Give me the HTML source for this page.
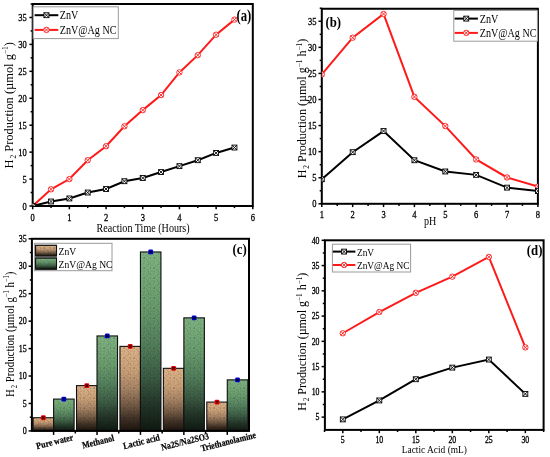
<!DOCTYPE html>
<html><head><meta charset="utf-8"><style>
html,body{margin:0;padding:0;background:#fff;width:550px;height:457px;overflow:hidden}
svg{display:block;font-family:"Liberation Serif", serif;will-change:transform}
</style></head><body>
<svg width="550" height="457" viewBox="0 0 550 457" fill="#000">
<rect x="32.7" y="4" width="220.1" height="202" fill="none" stroke="#000" stroke-width="2.0"/>
<clipPath id="cp1"><rect x="32.7" y="4" width="220.1" height="202"/></clipPath><g clip-path="url(#cp1)">
<polyline points="32.7,206 51.04,189.3 69.38,179.07 87.73,160.21 106.07,146.21 124.41,126.28 142.75,110.12 161.09,95.03 179.43,72.41 197.78,55.17 216.12,34.7 234.46,19.62" fill="none" stroke="#ff1a1a" stroke-width="2"/>
<g stroke="#ff1a1a" stroke-width="0.9" fill="#fff"><circle cx="32.7" cy="206" r="2.7"/><path d="M30.68 203.97L34.73 208.03M34.73 203.97L30.68 208.03"/></g>
<g stroke="#ff1a1a" stroke-width="0.9" fill="#fff"><circle cx="51.04" cy="189.3" r="2.7"/><path d="M49.02 187.28L53.07 191.33M53.07 187.28L49.02 191.33"/></g>
<g stroke="#ff1a1a" stroke-width="0.9" fill="#fff"><circle cx="69.38" cy="179.07" r="2.7"/><path d="M67.36 177.04L71.41 181.09M71.41 177.04L67.36 181.09"/></g>
<g stroke="#ff1a1a" stroke-width="0.9" fill="#fff"><circle cx="87.73" cy="160.21" r="2.7"/><path d="M85.7 158.19L89.75 162.24M89.75 158.19L85.7 162.24"/></g>
<g stroke="#ff1a1a" stroke-width="0.9" fill="#fff"><circle cx="106.07" cy="146.21" r="2.7"/><path d="M104.04 144.18L108.09 148.23M108.09 144.18L104.04 148.23"/></g>
<g stroke="#ff1a1a" stroke-width="0.9" fill="#fff"><circle cx="124.41" cy="126.28" r="2.7"/><path d="M122.38 124.25L126.43 128.3M126.43 124.25L122.38 128.3"/></g>
<g stroke="#ff1a1a" stroke-width="0.9" fill="#fff"><circle cx="142.75" cy="110.12" r="2.7"/><path d="M140.72 108.09L144.78 112.14M144.78 108.09L140.72 112.14"/></g>
<g stroke="#ff1a1a" stroke-width="0.9" fill="#fff"><circle cx="161.09" cy="95.03" r="2.7"/><path d="M159.07 93.01L163.12 97.06M163.12 93.01L159.07 97.06"/></g>
<g stroke="#ff1a1a" stroke-width="0.9" fill="#fff"><circle cx="179.43" cy="72.41" r="2.7"/><path d="M177.41 70.39L181.46 74.44M181.46 70.39L177.41 74.44"/></g>
<g stroke="#ff1a1a" stroke-width="0.9" fill="#fff"><circle cx="197.78" cy="55.17" r="2.7"/><path d="M195.75 53.15L199.8 57.2M199.8 53.15L195.75 57.2"/></g>
<g stroke="#ff1a1a" stroke-width="0.9" fill="#fff"><circle cx="216.12" cy="34.7" r="2.7"/><path d="M214.09 32.68L218.14 36.73M218.14 32.68L214.09 36.73"/></g>
<g stroke="#ff1a1a" stroke-width="0.9" fill="#fff"><circle cx="234.46" cy="19.62" r="2.7"/><path d="M232.43 17.6L236.48 21.65M236.48 17.6L232.43 21.65"/></g>
<polyline points="32.7,206 51.04,201.48 69.38,198.46 87.73,192.53 106.07,189.03 124.41,181.22 142.75,177.99 161.09,172.06 179.43,166.14 197.78,160.21 216.12,152.94 234.46,147.55" fill="none" stroke="#000" stroke-width="2"/>
<g stroke="#000" stroke-width="0.9" fill="#fff"><rect x="30.25" y="203.55" width="4.9" height="4.9"/><path d="M30.25 203.55L35.15 208.45M35.15 203.55L30.25 208.45"/></g>
<g stroke="#000" stroke-width="0.9" fill="#fff"><rect x="48.59" y="199.03" width="4.9" height="4.9"/><path d="M48.59 199.03L53.49 203.93M53.49 199.03L48.59 203.93"/></g>
<g stroke="#000" stroke-width="0.9" fill="#fff"><rect x="66.93" y="196.01" width="4.9" height="4.9"/><path d="M66.93 196.01L71.83 200.91M71.83 196.01L66.93 200.91"/></g>
<g stroke="#000" stroke-width="0.9" fill="#fff"><rect x="85.28" y="190.08" width="4.9" height="4.9"/><path d="M85.28 190.08L90.18 194.98M90.18 190.08L85.28 194.98"/></g>
<g stroke="#000" stroke-width="0.9" fill="#fff"><rect x="103.62" y="186.58" width="4.9" height="4.9"/><path d="M103.62 186.58L108.52 191.48M108.52 186.58L103.62 191.48"/></g>
<g stroke="#000" stroke-width="0.9" fill="#fff"><rect x="121.96" y="178.77" width="4.9" height="4.9"/><path d="M121.96 178.77L126.86 183.67M126.86 178.77L121.96 183.67"/></g>
<g stroke="#000" stroke-width="0.9" fill="#fff"><rect x="140.3" y="175.54" width="4.9" height="4.9"/><path d="M140.3 175.54L145.2 180.44M145.2 175.54L140.3 180.44"/></g>
<g stroke="#000" stroke-width="0.9" fill="#fff"><rect x="158.64" y="169.61" width="4.9" height="4.9"/><path d="M158.64 169.61L163.54 174.51M163.54 169.61L158.64 174.51"/></g>
<g stroke="#000" stroke-width="0.9" fill="#fff"><rect x="176.98" y="163.69" width="4.9" height="4.9"/><path d="M176.98 163.69L181.88 168.59M181.88 163.69L176.98 168.59"/></g>
<g stroke="#000" stroke-width="0.9" fill="#fff"><rect x="195.33" y="157.76" width="4.9" height="4.9"/><path d="M195.33 157.76L200.23 162.66M200.23 157.76L195.33 162.66"/></g>
<g stroke="#000" stroke-width="0.9" fill="#fff"><rect x="213.67" y="150.49" width="4.9" height="4.9"/><path d="M213.67 150.49L218.57 155.39M218.57 150.49L213.67 155.39"/></g>
<g stroke="#000" stroke-width="0.9" fill="#fff"><rect x="232.01" y="145.1" width="4.9" height="4.9"/><path d="M232.01 145.1L236.91 150M236.91 145.1L232.01 150"/></g>
</g>
<line x1="32.7" y1="206" x2="32.7" y2="209.3" stroke="#000" stroke-width="1.5"/>
<text transform="translate(32.7,220.8) scale(1,1.22)" font-size="8.5" text-anchor="middle" stroke="#000" stroke-width="0.25">0</text>
<line x1="69.38" y1="206" x2="69.38" y2="209.3" stroke="#000" stroke-width="1.5"/>
<text transform="translate(69.38,220.8) scale(1,1.22)" font-size="8.5" text-anchor="middle" stroke="#000" stroke-width="0.25">1</text>
<line x1="106.07" y1="206" x2="106.07" y2="209.3" stroke="#000" stroke-width="1.5"/>
<text transform="translate(106.07,220.8) scale(1,1.22)" font-size="8.5" text-anchor="middle" stroke="#000" stroke-width="0.25">2</text>
<line x1="142.75" y1="206" x2="142.75" y2="209.3" stroke="#000" stroke-width="1.5"/>
<text transform="translate(142.75,220.8) scale(1,1.22)" font-size="8.5" text-anchor="middle" stroke="#000" stroke-width="0.25">3</text>
<line x1="179.43" y1="206" x2="179.43" y2="209.3" stroke="#000" stroke-width="1.5"/>
<text transform="translate(179.43,220.8) scale(1,1.22)" font-size="8.5" text-anchor="middle" stroke="#000" stroke-width="0.25">4</text>
<line x1="216.12" y1="206" x2="216.12" y2="209.3" stroke="#000" stroke-width="1.5"/>
<text transform="translate(216.12,220.8) scale(1,1.22)" font-size="8.5" text-anchor="middle" stroke="#000" stroke-width="0.25">5</text>
<line x1="252.8" y1="206" x2="252.8" y2="209.3" stroke="#000" stroke-width="1.5"/>
<text transform="translate(252.8,220.8) scale(1,1.22)" font-size="8.5" text-anchor="middle" stroke="#000" stroke-width="0.25">6</text>
<line x1="51.04" y1="206" x2="51.04" y2="208.1" stroke="#000" stroke-width="1.5"/>
<line x1="87.73" y1="206" x2="87.73" y2="208.1" stroke="#000" stroke-width="1.5"/>
<line x1="124.41" y1="206" x2="124.41" y2="208.1" stroke="#000" stroke-width="1.5"/>
<line x1="161.09" y1="206" x2="161.09" y2="208.1" stroke="#000" stroke-width="1.5"/>
<line x1="197.78" y1="206" x2="197.78" y2="208.1" stroke="#000" stroke-width="1.5"/>
<line x1="234.46" y1="206" x2="234.46" y2="208.1" stroke="#000" stroke-width="1.5"/>
<line x1="32.7" y1="206" x2="29.4" y2="206" stroke="#000" stroke-width="1.5"/>
<text transform="translate(26.8,209.5) scale(1,1.22)" font-size="8.5" text-anchor="end" stroke="#000" stroke-width="0.25">0</text>
<line x1="32.7" y1="179.07" x2="29.4" y2="179.07" stroke="#000" stroke-width="1.5"/>
<text transform="translate(26.8,182.57) scale(1,1.22)" font-size="8.5" text-anchor="end" stroke="#000" stroke-width="0.25">5</text>
<line x1="32.7" y1="152.13" x2="29.4" y2="152.13" stroke="#000" stroke-width="1.5"/>
<text transform="translate(26.8,155.63) scale(1,1.22)" font-size="8.5" text-anchor="end" stroke="#000" stroke-width="0.25">10</text>
<line x1="32.7" y1="125.2" x2="29.4" y2="125.2" stroke="#000" stroke-width="1.5"/>
<text transform="translate(26.8,128.7) scale(1,1.22)" font-size="8.5" text-anchor="end" stroke="#000" stroke-width="0.25">15</text>
<line x1="32.7" y1="98.27" x2="29.4" y2="98.27" stroke="#000" stroke-width="1.5"/>
<text transform="translate(26.8,101.77) scale(1,1.22)" font-size="8.5" text-anchor="end" stroke="#000" stroke-width="0.25">20</text>
<line x1="32.7" y1="71.33" x2="29.4" y2="71.33" stroke="#000" stroke-width="1.5"/>
<text transform="translate(26.8,74.83) scale(1,1.22)" font-size="8.5" text-anchor="end" stroke="#000" stroke-width="0.25">25</text>
<line x1="32.7" y1="44.4" x2="29.4" y2="44.4" stroke="#000" stroke-width="1.5"/>
<text transform="translate(26.8,47.9) scale(1,1.22)" font-size="8.5" text-anchor="end" stroke="#000" stroke-width="0.25">30</text>
<line x1="32.7" y1="17.47" x2="29.4" y2="17.47" stroke="#000" stroke-width="1.5"/>
<text transform="translate(26.8,20.97) scale(1,1.22)" font-size="8.5" text-anchor="end" stroke="#000" stroke-width="0.25">35</text>
<line x1="32.7" y1="192.53" x2="30.6" y2="192.53" stroke="#000" stroke-width="1.5"/>
<line x1="32.7" y1="165.6" x2="30.6" y2="165.6" stroke="#000" stroke-width="1.5"/>
<line x1="32.7" y1="138.67" x2="30.6" y2="138.67" stroke="#000" stroke-width="1.5"/>
<line x1="32.7" y1="111.73" x2="30.6" y2="111.73" stroke="#000" stroke-width="1.5"/>
<line x1="32.7" y1="84.8" x2="30.6" y2="84.8" stroke="#000" stroke-width="1.5"/>
<line x1="32.7" y1="57.87" x2="30.6" y2="57.87" stroke="#000" stroke-width="1.5"/>
<line x1="32.7" y1="30.93" x2="30.6" y2="30.93" stroke="#000" stroke-width="1.5"/>
<line x1="32.7" y1="4" x2="30.6" y2="4" stroke="#000" stroke-width="1.5"/>
<rect x="33.2" y="6.8" width="85.1" height="31.8" fill="#fff" stroke="#9a9a9a" stroke-width="1"/>
<line x1="34.6" y1="15.2" x2="58.3" y2="15.2" stroke="#000" stroke-width="2"/>
<g stroke="#000" stroke-width="0.9" fill="#fff"><rect x="44" y="12.75" width="4.9" height="4.9"/><path d="M44 12.75L48.9 17.65M48.9 12.75L44 17.65"/></g>
<text transform="translate(59.8,19.1) scale(1,1.16)" font-size="10.1">ZnV</text>
<line x1="34.6" y1="29.9" x2="58.3" y2="29.9" stroke="#ff1a1a" stroke-width="2"/>
<g stroke="#ff1a1a" stroke-width="0.9" fill="#fff"><circle cx="46.45" cy="29.9" r="2.7"/><path d="M44.43 27.88L48.48 31.92M48.48 27.88L44.43 31.92"/></g>
<text transform="translate(59.8,33.8) scale(1,1.16)" font-size="10.1">ZnV@Ag NC</text>
<text transform="translate(236.4,20.9) scale(1,1.25)" font-size="12.8" font-weight="bold">(a)</text>
<text transform="translate(96.6,231.5) scale(1,1.16)" font-size="10.1">Reaction Time (Hours)</text>
<text transform="translate(13,105.3) rotate(-90) scale(1.02,1)" font-size="12.2" text-anchor="middle">H<tspan font-size="7.32" dy="2.93" dx="0.98">2</tspan><tspan dy="-2.93"> Production (µmol g</tspan><tspan font-size="7.32" dy="-4.64">−1</tspan><tspan dy="4.64">)</tspan></text>
<rect x="321.8" y="8.75" width="216.1" height="195.05" fill="none" stroke="#000" stroke-width="2.0"/>
<clipPath id="cp2"><rect x="321.8" y="8.75" width="216.1" height="195.05"/></clipPath><g clip-path="url(#cp2)">
<polyline points="321.8,74.46 352.67,37.69 383.54,13.97 414.41,96.89 445.29,126.09 476.16,159.47 507.03,177.46 537.9,186.59" fill="none" stroke="#ff1a1a" stroke-width="2"/>
<g stroke="#ff1a1a" stroke-width="0.9" fill="#fff"><circle cx="321.8" cy="74.46" r="2.7"/><path d="M319.78 72.44L323.82 76.49M323.82 72.44L319.78 76.49"/></g>
<g stroke="#ff1a1a" stroke-width="0.9" fill="#fff"><circle cx="352.67" cy="37.69" r="2.7"/><path d="M350.65 35.67L354.7 39.72M354.7 35.67L350.65 39.72"/></g>
<g stroke="#ff1a1a" stroke-width="0.9" fill="#fff"><circle cx="383.54" cy="13.97" r="2.7"/><path d="M381.52 11.94L385.57 15.99M385.57 11.94L381.52 15.99"/></g>
<g stroke="#ff1a1a" stroke-width="0.9" fill="#fff"><circle cx="414.41" cy="96.89" r="2.7"/><path d="M412.39 94.86L416.44 98.91M416.44 94.86L412.39 98.91"/></g>
<g stroke="#ff1a1a" stroke-width="0.9" fill="#fff"><circle cx="445.29" cy="126.09" r="2.7"/><path d="M443.26 124.07L447.31 128.12M447.31 124.07L443.26 128.12"/></g>
<g stroke="#ff1a1a" stroke-width="0.9" fill="#fff"><circle cx="476.16" cy="159.47" r="2.7"/><path d="M474.13 157.45L478.18 161.5M478.18 157.45L474.13 161.5"/></g>
<g stroke="#ff1a1a" stroke-width="0.9" fill="#fff"><circle cx="507.03" cy="177.46" r="2.7"/><path d="M505 175.44L509.05 179.49M509.05 175.44L505 179.49"/></g>
<g stroke="#ff1a1a" stroke-width="0.9" fill="#fff"><circle cx="537.9" cy="186.59" r="2.7"/><path d="M535.88 184.56L539.92 188.61M539.92 184.56L535.88 188.61"/></g>
<polyline points="321.8,179.29 352.67,152.17 383.54,131.05 414.41,160.25 445.29,171.47 476.16,174.86 507.03,187.63 537.9,191.02" fill="none" stroke="#000" stroke-width="2"/>
<g stroke="#000" stroke-width="0.9" fill="#fff"><rect x="319.35" y="176.84" width="4.9" height="4.9"/><path d="M319.35 176.84L324.25 181.74M324.25 176.84L319.35 181.74"/></g>
<g stroke="#000" stroke-width="0.9" fill="#fff"><rect x="350.22" y="149.72" width="4.9" height="4.9"/><path d="M350.22 149.72L355.12 154.62M355.12 149.72L350.22 154.62"/></g>
<g stroke="#000" stroke-width="0.9" fill="#fff"><rect x="381.09" y="128.6" width="4.9" height="4.9"/><path d="M381.09 128.6L385.99 133.5M385.99 128.6L381.09 133.5"/></g>
<g stroke="#000" stroke-width="0.9" fill="#fff"><rect x="411.96" y="157.8" width="4.9" height="4.9"/><path d="M411.96 157.8L416.86 162.7M416.86 157.8L411.96 162.7"/></g>
<g stroke="#000" stroke-width="0.9" fill="#fff"><rect x="442.84" y="169.02" width="4.9" height="4.9"/><path d="M442.84 169.02L447.74 173.92M447.74 169.02L442.84 173.92"/></g>
<g stroke="#000" stroke-width="0.9" fill="#fff"><rect x="473.71" y="172.41" width="4.9" height="4.9"/><path d="M473.71 172.41L478.61 177.31M478.61 172.41L473.71 177.31"/></g>
<g stroke="#000" stroke-width="0.9" fill="#fff"><rect x="504.58" y="185.18" width="4.9" height="4.9"/><path d="M504.58 185.18L509.48 190.08M509.48 185.18L504.58 190.08"/></g>
<g stroke="#000" stroke-width="0.9" fill="#fff"><rect x="535.45" y="188.57" width="4.9" height="4.9"/><path d="M535.45 188.57L540.35 193.47M540.35 188.57L535.45 193.47"/></g>
</g>
<line x1="321.8" y1="203.8" x2="321.8" y2="207.1" stroke="#000" stroke-width="1.5"/>
<text transform="translate(321.8,217.6) scale(1,1.22)" font-size="8.5" text-anchor="middle" stroke="#000" stroke-width="0.25">1</text>
<line x1="352.67" y1="203.8" x2="352.67" y2="207.1" stroke="#000" stroke-width="1.5"/>
<text transform="translate(352.67,217.6) scale(1,1.22)" font-size="8.5" text-anchor="middle" stroke="#000" stroke-width="0.25">2</text>
<line x1="383.54" y1="203.8" x2="383.54" y2="207.1" stroke="#000" stroke-width="1.5"/>
<text transform="translate(383.54,217.6) scale(1,1.22)" font-size="8.5" text-anchor="middle" stroke="#000" stroke-width="0.25">3</text>
<line x1="414.41" y1="203.8" x2="414.41" y2="207.1" stroke="#000" stroke-width="1.5"/>
<text transform="translate(414.41,217.6) scale(1,1.22)" font-size="8.5" text-anchor="middle" stroke="#000" stroke-width="0.25">4</text>
<line x1="445.29" y1="203.8" x2="445.29" y2="207.1" stroke="#000" stroke-width="1.5"/>
<text transform="translate(445.29,217.6) scale(1,1.22)" font-size="8.5" text-anchor="middle" stroke="#000" stroke-width="0.25">5</text>
<line x1="476.16" y1="203.8" x2="476.16" y2="207.1" stroke="#000" stroke-width="1.5"/>
<text transform="translate(476.16,217.6) scale(1,1.22)" font-size="8.5" text-anchor="middle" stroke="#000" stroke-width="0.25">6</text>
<line x1="507.03" y1="203.8" x2="507.03" y2="207.1" stroke="#000" stroke-width="1.5"/>
<text transform="translate(507.03,217.6) scale(1,1.22)" font-size="8.5" text-anchor="middle" stroke="#000" stroke-width="0.25">7</text>
<line x1="537.9" y1="203.8" x2="537.9" y2="207.1" stroke="#000" stroke-width="1.5"/>
<text transform="translate(537.9,217.6) scale(1,1.22)" font-size="8.5" text-anchor="middle" stroke="#000" stroke-width="0.25">8</text>
<line x1="337.24" y1="203.8" x2="337.24" y2="205.9" stroke="#000" stroke-width="1.5"/>
<line x1="368.11" y1="203.8" x2="368.11" y2="205.9" stroke="#000" stroke-width="1.5"/>
<line x1="398.98" y1="203.8" x2="398.98" y2="205.9" stroke="#000" stroke-width="1.5"/>
<line x1="429.85" y1="203.8" x2="429.85" y2="205.9" stroke="#000" stroke-width="1.5"/>
<line x1="460.72" y1="203.8" x2="460.72" y2="205.9" stroke="#000" stroke-width="1.5"/>
<line x1="491.59" y1="203.8" x2="491.59" y2="205.9" stroke="#000" stroke-width="1.5"/>
<line x1="522.46" y1="203.8" x2="522.46" y2="205.9" stroke="#000" stroke-width="1.5"/>
<line x1="321.8" y1="203.8" x2="318.5" y2="203.8" stroke="#000" stroke-width="1.5"/>
<text transform="translate(316.6,207.3) scale(1,1.22)" font-size="8.5" text-anchor="end" stroke="#000" stroke-width="0.25">0</text>
<line x1="321.8" y1="177.72" x2="318.5" y2="177.72" stroke="#000" stroke-width="1.5"/>
<text transform="translate(316.6,181.22) scale(1,1.22)" font-size="8.5" text-anchor="end" stroke="#000" stroke-width="0.25">5</text>
<line x1="321.8" y1="151.65" x2="318.5" y2="151.65" stroke="#000" stroke-width="1.5"/>
<text transform="translate(316.6,155.15) scale(1,1.22)" font-size="8.5" text-anchor="end" stroke="#000" stroke-width="0.25">10</text>
<line x1="321.8" y1="125.57" x2="318.5" y2="125.57" stroke="#000" stroke-width="1.5"/>
<text transform="translate(316.6,129.07) scale(1,1.22)" font-size="8.5" text-anchor="end" stroke="#000" stroke-width="0.25">15</text>
<line x1="321.8" y1="99.5" x2="318.5" y2="99.5" stroke="#000" stroke-width="1.5"/>
<text transform="translate(316.6,103) scale(1,1.22)" font-size="8.5" text-anchor="end" stroke="#000" stroke-width="0.25">20</text>
<line x1="321.8" y1="73.42" x2="318.5" y2="73.42" stroke="#000" stroke-width="1.5"/>
<text transform="translate(316.6,76.92) scale(1,1.22)" font-size="8.5" text-anchor="end" stroke="#000" stroke-width="0.25">25</text>
<line x1="321.8" y1="47.34" x2="318.5" y2="47.34" stroke="#000" stroke-width="1.5"/>
<text transform="translate(316.6,50.84) scale(1,1.22)" font-size="8.5" text-anchor="end" stroke="#000" stroke-width="0.25">30</text>
<line x1="321.8" y1="21.27" x2="318.5" y2="21.27" stroke="#000" stroke-width="1.5"/>
<text transform="translate(316.6,24.77) scale(1,1.22)" font-size="8.5" text-anchor="end" stroke="#000" stroke-width="0.25">35</text>
<line x1="321.8" y1="190.76" x2="319.7" y2="190.76" stroke="#000" stroke-width="1.5"/>
<line x1="321.8" y1="164.69" x2="319.7" y2="164.69" stroke="#000" stroke-width="1.5"/>
<line x1="321.8" y1="138.61" x2="319.7" y2="138.61" stroke="#000" stroke-width="1.5"/>
<line x1="321.8" y1="112.53" x2="319.7" y2="112.53" stroke="#000" stroke-width="1.5"/>
<line x1="321.8" y1="86.46" x2="319.7" y2="86.46" stroke="#000" stroke-width="1.5"/>
<line x1="321.8" y1="60.38" x2="319.7" y2="60.38" stroke="#000" stroke-width="1.5"/>
<line x1="321.8" y1="34.3" x2="319.7" y2="34.3" stroke="#000" stroke-width="1.5"/>
<line x1="321.8" y1="8.23" x2="319.7" y2="8.23" stroke="#000" stroke-width="1.5"/>
<rect x="453.8" y="10.5" width="83.6" height="30.7" fill="#fff" stroke="#9a9a9a" stroke-width="1"/>
<line x1="454.6" y1="18.6" x2="477.9" y2="18.6" stroke="#000" stroke-width="2"/>
<g stroke="#000" stroke-width="0.9" fill="#fff"><rect x="463.8" y="16.15" width="4.9" height="4.9"/><path d="M463.8 16.15L468.7 21.05M468.7 16.15L463.8 21.05"/></g>
<text transform="translate(479.8,22.5) scale(1,1.16)" font-size="10.1">ZnV</text>
<line x1="454.6" y1="32.9" x2="477.9" y2="32.9" stroke="#ff1a1a" stroke-width="2"/>
<g stroke="#ff1a1a" stroke-width="0.9" fill="#fff"><circle cx="466.25" cy="32.9" r="2.7"/><path d="M464.23 30.88L468.27 34.92M468.27 30.88L464.23 34.92"/></g>
<text transform="translate(479.8,36.8) scale(1,1.16)" font-size="10.1">ZnV@Ag NC</text>
<text transform="translate(325.4,26.6) scale(1,1.2)" font-size="12.8" font-weight="bold">(b)</text>
<text transform="translate(430.2,225) scale(1,1.16)" font-size="10.1" text-anchor="middle">pH</text>
<text transform="translate(306.2,108.6) rotate(-90) scale(0.99,1)" font-size="12.2" text-anchor="middle">H<tspan font-size="7.32" dy="2.93" dx="0.98">2</tspan><tspan dy="-2.93"> Production (µmol g</tspan><tspan font-size="7.32" dy="-4.64">−1</tspan><tspan dy="4.64"> h</tspan><tspan font-size="7.32" dy="-4.64">−1</tspan><tspan dy="4.64">)</tspan></text>
<defs><linearGradient id="gt" x1="0" y1="0" x2="0" y2="1"><stop offset="0" stop-color="rgb(222,180,138)"/><stop offset="0.3" stop-color="rgb(202,160,120)"/><stop offset="0.5" stop-color="rgb(168,133,102)"/><stop offset="0.7" stop-color="rgb(115,90,68)"/><stop offset="0.85" stop-color="rgb(65,50,38)"/><stop offset="1" stop-color="rgb(28,20,14)"/></linearGradient><linearGradient id="gg" x1="0" y1="0" x2="0" y2="1"><stop offset="0" stop-color="rgb(128,180,130)"/><stop offset="0.3" stop-color="rgb(106,157,110)"/><stop offset="0.5" stop-color="rgb(85,130,94)"/><stop offset="0.7" stop-color="rgb(60,92,68)"/><stop offset="0.85" stop-color="rgb(36,54,40)"/><stop offset="1" stop-color="rgb(15,25,18)"/></linearGradient><pattern id="tx" width="10" height="10" patternUnits="userSpaceOnUse"><g fill="#000" fill-opacity="0.2"><circle cx="0.92" cy="1.10" r="0.68"/><circle cx="2.95" cy="1.01" r="0.60"/><circle cx="4.50" cy="1.02" r="0.61"/><circle cx="7.47" cy="0.35" r="0.53"/><circle cx="8.35" cy="1.50" r="0.62"/><circle cx="0.27" cy="3.77" r="0.69"/><circle cx="3.25" cy="3.18" r="0.49"/><circle cx="4.22" cy="3.05" r="0.46"/><circle cx="6.50" cy="2.59" r="0.46"/><circle cx="8.94" cy="2.90" r="0.66"/><circle cx="1.03" cy="5.22" r="0.57"/><circle cx="3.26" cy="4.93" r="0.52"/><circle cx="5.80" cy="5.79" r="0.66"/><circle cx="7.33" cy="4.70" r="0.51"/><circle cx="8.66" cy="4.31" r="0.64"/><circle cx="0.84" cy="7.55" r="0.55"/><circle cx="3.73" cy="7.56" r="0.45"/><circle cx="4.54" cy="7.66" r="0.57"/><circle cx="7.77" cy="6.84" r="0.47"/><circle cx="9.21" cy="7.45" r="0.52"/><circle cx="0.34" cy="8.73" r="0.69"/><circle cx="3.41" cy="8.39" r="0.51"/><circle cx="4.36" cy="8.30" r="0.65"/><circle cx="6.48" cy="9.09" r="0.56"/><circle cx="8.51" cy="9.37" r="0.48"/></g></pattern></defs>
<rect x="33.11" y="417.73" width="20.5" height="13.17" fill="url(#gt)" stroke="#111" stroke-width="1.1"/>
<rect x="53.61" y="399.07" width="20.5" height="31.83" fill="url(#gg)" stroke="#111" stroke-width="1.1"/>
<rect x="33.11" y="417.73" width="20.5" height="13.17" fill="url(#tx)"/>
<rect x="53.61" y="399.07" width="20.5" height="31.83" fill="url(#tx)"/>
<rect x="40.96" y="415.33" width="4.8" height="4.8" rx="1.2" fill="#f00000"/><path d="M42.06 416.43L44.66 419.03M44.66 416.43L42.06 419.03" stroke="#300" stroke-width="1.1"/>
<rect x="61.46" y="396.67" width="4.8" height="4.8" rx="1.2" fill="#0000e6"/><path d="M62.56 397.77L65.16 400.37M65.16 397.77L62.56 400.37" stroke="#002" stroke-width="1.1"/>
<line x1="53.61" y1="430.9" x2="53.61" y2="434.9" stroke="#000" stroke-width="1.5"/>
<rect x="76.53" y="385.62" width="20.5" height="45.28" fill="url(#gt)" stroke="#111" stroke-width="1.1"/>
<rect x="97.03" y="335.95" width="20.5" height="94.95" fill="url(#gg)" stroke="#111" stroke-width="1.1"/>
<rect x="76.53" y="385.62" width="20.5" height="45.28" fill="url(#tx)"/>
<rect x="97.03" y="335.95" width="20.5" height="94.95" fill="url(#tx)"/>
<rect x="84.38" y="383.22" width="4.8" height="4.8" rx="1.2" fill="#f00000"/><path d="M85.48 384.32L88.08 386.92M88.08 384.32L85.48 386.92" stroke="#300" stroke-width="1.1"/>
<rect x="104.88" y="333.55" width="4.8" height="4.8" rx="1.2" fill="#0000e6"/><path d="M105.98 334.65L108.58 337.25M108.58 334.65L105.98 337.25" stroke="#002" stroke-width="1.1"/>
<line x1="97.03" y1="430.9" x2="97.03" y2="434.9" stroke="#000" stroke-width="1.5"/>
<rect x="119.95" y="346.38" width="20.5" height="84.52" fill="url(#gt)" stroke="#111" stroke-width="1.1"/>
<rect x="140.45" y="251.97" width="20.5" height="178.93" fill="url(#gg)" stroke="#111" stroke-width="1.1"/>
<rect x="119.95" y="346.38" width="20.5" height="84.52" fill="url(#tx)"/>
<rect x="140.45" y="251.97" width="20.5" height="178.93" fill="url(#tx)"/>
<rect x="127.8" y="343.98" width="4.8" height="4.8" rx="1.2" fill="#f00000"/><path d="M128.9 345.08L131.5 347.68M131.5 345.08L128.9 347.68" stroke="#300" stroke-width="1.1"/>
<rect x="148.3" y="249.57" width="4.8" height="4.8" rx="1.2" fill="#0000e6"/><path d="M149.4 250.67L152 253.27M152 250.67L149.4 253.27" stroke="#002" stroke-width="1.1"/>
<line x1="140.45" y1="430.9" x2="140.45" y2="434.9" stroke="#000" stroke-width="1.5"/>
<rect x="163.37" y="368.33" width="20.5" height="62.57" fill="url(#gt)" stroke="#111" stroke-width="1.1"/>
<rect x="183.87" y="317.84" width="20.5" height="113.06" fill="url(#gg)" stroke="#111" stroke-width="1.1"/>
<rect x="163.37" y="368.33" width="20.5" height="62.57" fill="url(#tx)"/>
<rect x="183.87" y="317.84" width="20.5" height="113.06" fill="url(#tx)"/>
<rect x="171.22" y="365.93" width="4.8" height="4.8" rx="1.2" fill="#f00000"/><path d="M172.32 367.03L174.92 369.63M174.92 367.03L172.32 369.63" stroke="#300" stroke-width="1.1"/>
<rect x="191.72" y="315.44" width="4.8" height="4.8" rx="1.2" fill="#0000e6"/><path d="M192.82 316.54L195.42 319.14M195.42 316.54L192.82 319.14" stroke="#002" stroke-width="1.1"/>
<line x1="183.87" y1="430.9" x2="183.87" y2="434.9" stroke="#000" stroke-width="1.5"/>
<rect x="206.79" y="402.08" width="20.5" height="28.81" fill="url(#gt)" stroke="#111" stroke-width="1.1"/>
<rect x="227.29" y="379.86" width="20.5" height="51.04" fill="url(#gg)" stroke="#111" stroke-width="1.1"/>
<rect x="206.79" y="402.08" width="20.5" height="28.81" fill="url(#tx)"/>
<rect x="227.29" y="379.86" width="20.5" height="51.04" fill="url(#tx)"/>
<rect x="214.64" y="399.69" width="4.8" height="4.8" rx="1.2" fill="#f00000"/><path d="M215.74 400.78L218.34 403.38M218.34 400.78L215.74 403.38" stroke="#300" stroke-width="1.1"/>
<rect x="235.14" y="377.46" width="4.8" height="4.8" rx="1.2" fill="#0000e6"/><path d="M236.24 378.56L238.84 381.16M238.84 378.56L236.24 381.16" stroke="#002" stroke-width="1.1"/>
<line x1="227.29" y1="430.9" x2="227.29" y2="434.9" stroke="#000" stroke-width="1.5"/>
<line x1="75.32" y1="430.9" x2="75.32" y2="433.5" stroke="#000" stroke-width="1.5"/>
<line x1="118.74" y1="430.9" x2="118.74" y2="433.5" stroke="#000" stroke-width="1.5"/>
<line x1="162.16" y1="430.9" x2="162.16" y2="433.5" stroke="#000" stroke-width="1.5"/>
<line x1="205.58" y1="430.9" x2="205.58" y2="433.5" stroke="#000" stroke-width="1.5"/>
<rect x="31.9" y="238.8" width="217.1" height="192.1" fill="none" stroke="#000" stroke-width="2.0"/>
<line x1="31.9" y1="430.9" x2="28.6" y2="430.9" stroke="#000" stroke-width="1.5"/>
<text transform="translate(26.7,434.1) scale(1,1.2)" font-size="8" text-anchor="end" stroke="#000" stroke-width="0.25">0</text>
<line x1="31.9" y1="403.46" x2="28.6" y2="403.46" stroke="#000" stroke-width="1.5"/>
<text transform="translate(26.7,406.66) scale(1,1.2)" font-size="8" text-anchor="end" stroke="#000" stroke-width="0.25">5</text>
<line x1="31.9" y1="376.01" x2="28.6" y2="376.01" stroke="#000" stroke-width="1.5"/>
<text transform="translate(26.7,379.21) scale(1,1.2)" font-size="8" text-anchor="end" stroke="#000" stroke-width="0.25">10</text>
<line x1="31.9" y1="348.57" x2="28.6" y2="348.57" stroke="#000" stroke-width="1.5"/>
<text transform="translate(26.7,351.77) scale(1,1.2)" font-size="8" text-anchor="end" stroke="#000" stroke-width="0.25">15</text>
<line x1="31.9" y1="321.13" x2="28.6" y2="321.13" stroke="#000" stroke-width="1.5"/>
<text transform="translate(26.7,324.33) scale(1,1.2)" font-size="8" text-anchor="end" stroke="#000" stroke-width="0.25">20</text>
<line x1="31.9" y1="293.69" x2="28.6" y2="293.69" stroke="#000" stroke-width="1.5"/>
<text transform="translate(26.7,296.89) scale(1,1.2)" font-size="8" text-anchor="end" stroke="#000" stroke-width="0.25">25</text>
<line x1="31.9" y1="266.24" x2="28.6" y2="266.24" stroke="#000" stroke-width="1.5"/>
<text transform="translate(26.7,269.44) scale(1,1.2)" font-size="8" text-anchor="end" stroke="#000" stroke-width="0.25">30</text>
<line x1="31.9" y1="238.8" x2="28.6" y2="238.8" stroke="#000" stroke-width="1.5"/>
<text transform="translate(26.7,242) scale(1,1.2)" font-size="8" text-anchor="end" stroke="#000" stroke-width="0.25">35</text>
<line x1="31.9" y1="417.18" x2="29.8" y2="417.18" stroke="#000" stroke-width="1.5"/>
<line x1="31.9" y1="389.74" x2="29.8" y2="389.74" stroke="#000" stroke-width="1.5"/>
<line x1="31.9" y1="362.29" x2="29.8" y2="362.29" stroke="#000" stroke-width="1.5"/>
<line x1="31.9" y1="334.85" x2="29.8" y2="334.85" stroke="#000" stroke-width="1.5"/>
<line x1="31.9" y1="307.41" x2="29.8" y2="307.41" stroke="#000" stroke-width="1.5"/>
<line x1="31.9" y1="279.96" x2="29.8" y2="279.96" stroke="#000" stroke-width="1.5"/>
<line x1="31.9" y1="252.52" x2="29.8" y2="252.52" stroke="#000" stroke-width="1.5"/>
<rect x="34.4" y="243.3" width="77.6" height="27.4" fill="#fff" stroke="#9a9a9a" stroke-width="1"/>
<rect x="35.6" y="245.3" width="20.9" height="10.7" fill="url(#gt)" stroke="#222" stroke-width="0.8"/>
<rect x="35.6" y="258.0" width="20.9" height="11.2" fill="url(#gg)" stroke="#222" stroke-width="0.8"/>
<rect x="35.6" y="245.3" width="20.9" height="10.7" fill="url(#tx)" stroke="#111" stroke-width="1.1"/>
<rect x="35.6" y="258.0" width="20.9" height="11.2" fill="url(#tx)" stroke="#111" stroke-width="1.1"/>
<text transform="translate(58.6,254.7) scale(1,1.12)" font-size="9.6">ZnV</text>
<text transform="translate(58.6,268.2) scale(1,1.12)" font-size="9.6">ZnV@Ag NC</text>
<text transform="translate(232.6,253.6) scale(1,1.16)" font-size="12.8" font-weight="bold">(c)</text>
<text transform="translate(55.41,444.6) rotate(-14) scale(0.95,1.12)" font-size="8.4" text-anchor="middle" font-weight="bold" stroke="#000" stroke-width="0.2">Pure water</text>
<text transform="translate(98.83,444.6) rotate(-14) scale(0.95,1.12)" font-size="8.4" text-anchor="middle" font-weight="bold" stroke="#000" stroke-width="0.2">Methanol</text>
<text transform="translate(142.25,444.6) rotate(-14) scale(0.95,1.12)" font-size="8.4" text-anchor="middle" font-weight="bold" stroke="#000" stroke-width="0.2">Lactic acid</text>
<text transform="translate(185.67,444.6) rotate(-14) scale(0.95,1.12)" font-size="8.4" text-anchor="middle" font-weight="bold" stroke="#000" stroke-width="0.2">Na2S/Na2SO3</text>
<text transform="translate(229.09,444.6) rotate(-14) scale(0.95,1.12)" font-size="8.4" text-anchor="middle" font-weight="bold" stroke="#000" stroke-width="0.2">Triethanolamine</text>
<text transform="translate(14,334.3) rotate(-90) scale(0.89,1)" font-size="12.2" text-anchor="middle">H<tspan font-size="7.32" dy="2.93" dx="0.98">2</tspan><tspan dy="-2.93"> Production (µmol g</tspan><tspan font-size="7.32" dy="-4.64">−1</tspan><tspan dy="4.64"> h</tspan><tspan font-size="7.32" dy="-4.64">−1</tspan><tspan dy="4.64">)</tspan></text>
<rect x="324.9" y="240.3" width="218.7" height="189.6" fill="none" stroke="#000" stroke-width="2.0"/>
<clipPath id="cp3"><rect x="324.9" y="240.3" width="218.7" height="189.6"/></clipPath><g clip-path="url(#cp3)">
<polyline points="342.79,333.26 379.3,312.04 415.81,292.84 452.32,276.67 488.83,256.97 525.34,347.4" fill="none" stroke="#ff1a1a" stroke-width="2"/>
<g stroke="#ff1a1a" stroke-width="0.9" fill="#fff"><circle cx="342.79" cy="333.26" r="2.7"/><path d="M340.77 331.23L344.82 335.28M344.82 331.23L340.77 335.28"/></g>
<g stroke="#ff1a1a" stroke-width="0.9" fill="#fff"><circle cx="379.3" cy="312.04" r="2.7"/><path d="M377.28 310.01L381.33 314.06M381.33 310.01L377.28 314.06"/></g>
<g stroke="#ff1a1a" stroke-width="0.9" fill="#fff"><circle cx="415.81" cy="292.84" r="2.7"/><path d="M413.79 290.82L417.84 294.87M417.84 290.82L413.79 294.87"/></g>
<g stroke="#ff1a1a" stroke-width="0.9" fill="#fff"><circle cx="452.32" cy="276.67" r="2.7"/><path d="M450.3 274.65L454.35 278.7M454.35 274.65L450.3 278.7"/></g>
<g stroke="#ff1a1a" stroke-width="0.9" fill="#fff"><circle cx="488.83" cy="256.97" r="2.7"/><path d="M486.81 254.95L490.86 259M490.86 254.95L486.81 259"/></g>
<g stroke="#ff1a1a" stroke-width="0.9" fill="#fff"><circle cx="525.34" cy="347.4" r="2.7"/><path d="M523.32 345.38L527.37 349.43M527.37 345.38L523.32 349.43"/></g>
<polyline points="342.79,419.39 379.3,400.45 415.81,379.23 452.32,367.61 488.83,359.53 525.34,393.88" fill="none" stroke="#000" stroke-width="2"/>
<g stroke="#000" stroke-width="0.9" fill="#fff"><rect x="340.34" y="416.94" width="4.9" height="4.9"/><path d="M340.34 416.94L345.24 421.84M345.24 416.94L340.34 421.84"/></g>
<g stroke="#000" stroke-width="0.9" fill="#fff"><rect x="376.85" y="398" width="4.9" height="4.9"/><path d="M376.85 398L381.75 402.9M381.75 398L376.85 402.9"/></g>
<g stroke="#000" stroke-width="0.9" fill="#fff"><rect x="413.36" y="376.78" width="4.9" height="4.9"/><path d="M413.36 376.78L418.26 381.68M418.26 376.78L413.36 381.68"/></g>
<g stroke="#000" stroke-width="0.9" fill="#fff"><rect x="449.87" y="365.16" width="4.9" height="4.9"/><path d="M449.87 365.16L454.77 370.06M454.77 365.16L449.87 370.06"/></g>
<g stroke="#000" stroke-width="0.9" fill="#fff"><rect x="486.38" y="357.08" width="4.9" height="4.9"/><path d="M486.38 357.08L491.28 361.98M491.28 357.08L486.38 361.98"/></g>
<g stroke="#000" stroke-width="0.9" fill="#fff"><rect x="522.89" y="391.43" width="4.9" height="4.9"/><path d="M522.89 391.43L527.79 396.33M527.79 391.43L522.89 396.33"/></g>
</g>
<line x1="342.79" y1="429.9" x2="342.79" y2="433.2" stroke="#000" stroke-width="1.5"/>
<text transform="translate(342.79,443.3) scale(1,1.28)" font-size="7.8" text-anchor="middle" stroke="#000" stroke-width="0.25">5</text>
<line x1="379.3" y1="429.9" x2="379.3" y2="433.2" stroke="#000" stroke-width="1.5"/>
<text transform="translate(379.3,443.3) scale(1,1.28)" font-size="7.8" text-anchor="middle" stroke="#000" stroke-width="0.25">10</text>
<line x1="415.81" y1="429.9" x2="415.81" y2="433.2" stroke="#000" stroke-width="1.5"/>
<text transform="translate(415.81,443.3) scale(1,1.28)" font-size="7.8" text-anchor="middle" stroke="#000" stroke-width="0.25">15</text>
<line x1="452.32" y1="429.9" x2="452.32" y2="433.2" stroke="#000" stroke-width="1.5"/>
<text transform="translate(452.32,443.3) scale(1,1.28)" font-size="7.8" text-anchor="middle" stroke="#000" stroke-width="0.25">20</text>
<line x1="488.83" y1="429.9" x2="488.83" y2="433.2" stroke="#000" stroke-width="1.5"/>
<text transform="translate(488.83,443.3) scale(1,1.28)" font-size="7.8" text-anchor="middle" stroke="#000" stroke-width="0.25">25</text>
<line x1="525.34" y1="429.9" x2="525.34" y2="433.2" stroke="#000" stroke-width="1.5"/>
<text transform="translate(525.34,443.3) scale(1,1.28)" font-size="7.8" text-anchor="middle" stroke="#000" stroke-width="0.25">30</text>
<line x1="324.53" y1="429.9" x2="324.53" y2="432" stroke="#000" stroke-width="1.5"/>
<line x1="361.05" y1="429.9" x2="361.05" y2="432" stroke="#000" stroke-width="1.5"/>
<line x1="397.56" y1="429.9" x2="397.56" y2="432" stroke="#000" stroke-width="1.5"/>
<line x1="434.07" y1="429.9" x2="434.07" y2="432" stroke="#000" stroke-width="1.5"/>
<line x1="470.58" y1="429.9" x2="470.58" y2="432" stroke="#000" stroke-width="1.5"/>
<line x1="507.09" y1="429.9" x2="507.09" y2="432" stroke="#000" stroke-width="1.5"/>
<line x1="543.6" y1="429.9" x2="543.6" y2="432" stroke="#000" stroke-width="1.5"/>
<line x1="324.9" y1="417.12" x2="321.6" y2="417.12" stroke="#000" stroke-width="1.5"/>
<text transform="translate(319.5,420.42) scale(1,1.28)" font-size="7.8" text-anchor="end" stroke="#000" stroke-width="0.25">5</text>
<line x1="324.9" y1="391.86" x2="321.6" y2="391.86" stroke="#000" stroke-width="1.5"/>
<text transform="translate(319.5,395.16) scale(1,1.28)" font-size="7.8" text-anchor="end" stroke="#000" stroke-width="0.25">10</text>
<line x1="324.9" y1="366.6" x2="321.6" y2="366.6" stroke="#000" stroke-width="1.5"/>
<text transform="translate(319.5,369.9) scale(1,1.28)" font-size="7.8" text-anchor="end" stroke="#000" stroke-width="0.25">15</text>
<line x1="324.9" y1="341.34" x2="321.6" y2="341.34" stroke="#000" stroke-width="1.5"/>
<text transform="translate(319.5,344.64) scale(1,1.28)" font-size="7.8" text-anchor="end" stroke="#000" stroke-width="0.25">20</text>
<line x1="324.9" y1="316.08" x2="321.6" y2="316.08" stroke="#000" stroke-width="1.5"/>
<text transform="translate(319.5,319.38) scale(1,1.28)" font-size="7.8" text-anchor="end" stroke="#000" stroke-width="0.25">25</text>
<line x1="324.9" y1="290.82" x2="321.6" y2="290.82" stroke="#000" stroke-width="1.5"/>
<text transform="translate(319.5,294.12) scale(1,1.28)" font-size="7.8" text-anchor="end" stroke="#000" stroke-width="0.25">30</text>
<line x1="324.9" y1="265.56" x2="321.6" y2="265.56" stroke="#000" stroke-width="1.5"/>
<text transform="translate(319.5,268.86) scale(1,1.28)" font-size="7.8" text-anchor="end" stroke="#000" stroke-width="0.25">35</text>
<line x1="324.9" y1="240.3" x2="321.6" y2="240.3" stroke="#000" stroke-width="1.5"/>
<text transform="translate(319.5,243.6) scale(1,1.28)" font-size="7.8" text-anchor="end" stroke="#000" stroke-width="0.25">40</text>
<line x1="324.9" y1="404.49" x2="322.8" y2="404.49" stroke="#000" stroke-width="1.5"/>
<line x1="324.9" y1="379.23" x2="322.8" y2="379.23" stroke="#000" stroke-width="1.5"/>
<line x1="324.9" y1="353.97" x2="322.8" y2="353.97" stroke="#000" stroke-width="1.5"/>
<line x1="324.9" y1="328.71" x2="322.8" y2="328.71" stroke="#000" stroke-width="1.5"/>
<line x1="324.9" y1="303.45" x2="322.8" y2="303.45" stroke="#000" stroke-width="1.5"/>
<line x1="324.9" y1="278.19" x2="322.8" y2="278.19" stroke="#000" stroke-width="1.5"/>
<line x1="324.9" y1="252.93" x2="322.8" y2="252.93" stroke="#000" stroke-width="1.5"/>
<rect x="332.4" y="244.2" width="78.2" height="27.8" fill="#fff" stroke="#9a9a9a" stroke-width="1"/>
<line x1="332.8" y1="251.6" x2="355.4" y2="251.6" stroke="#000" stroke-width="2"/>
<g stroke="#000" stroke-width="0.9" fill="#fff"><rect x="341.65" y="249.15" width="4.9" height="4.9"/><path d="M341.65 249.15L346.55 254.05M346.55 249.15L341.65 254.05"/></g>
<text transform="translate(357,255.5) scale(1,1.16)" font-size="9.35">ZnV</text>
<line x1="332.8" y1="265" x2="355.4" y2="265" stroke="#ff1a1a" stroke-width="2"/>
<g stroke="#ff1a1a" stroke-width="0.9" fill="#fff"><circle cx="344.1" cy="265" r="2.7"/><path d="M342.08 262.98L346.12 267.02M346.12 262.98L342.08 267.02"/></g>
<text transform="translate(357,268.9) scale(1,1.16)" font-size="9.35">ZnV@Ag NC</text>
<text transform="translate(526.8,254.6) scale(1,1.12)" font-size="12.8" font-weight="bold">(d)</text>
<text transform="translate(401.8,452.9) scale(1,1.14)" font-size="9.4">Lactic Acid (mL)</text>
<text transform="translate(306.2,341.8) rotate(-90) scale(0.98,1)" font-size="12.2" text-anchor="middle">H<tspan font-size="7.32" dy="2.93" dx="0.98">2</tspan><tspan dy="-2.93"> Production (µmol g</tspan><tspan font-size="7.32" dy="-4.64">−1</tspan><tspan dy="4.64"> h</tspan><tspan font-size="7.32" dy="-4.64">−1</tspan><tspan dy="4.64">)</tspan></text>
</svg></body></html>
